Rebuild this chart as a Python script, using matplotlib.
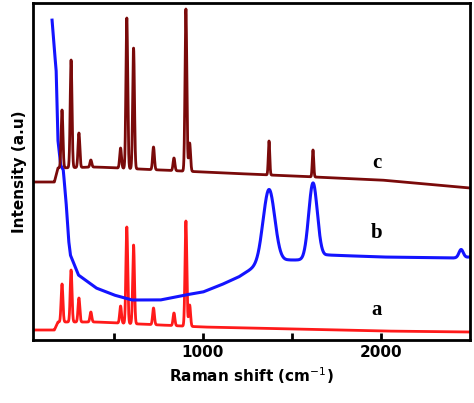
import numpy as np
import matplotlib
matplotlib.use("Agg")
import matplotlib.pyplot as plt

# Peak positions (cm-1) shared by a and c
pk_pos = [208, 259, 303, 370, 537, 572, 610, 722, 837, 904, 925]
# curve c (pixel-like intensity units)
c_base_x = [45, 165, 185, 400, 1000, 1500, 2000, 2500]
c_base_y = [158, 158, 172, 173, 168, 164, 160, 152]
c_pk_y = [230, 280, 207, 180, 192, 322, 292, 193, 182, 331, 197]
c_extra_pos = [1371, 1618]
c_extra_y = [199, 190]
# curve a
a_base_x = [45, 165, 185, 400, 1000, 1500, 2000, 2500]
a_base_y = [10, 10, 18, 18, 13, 11, 9, 8]
a_pk_y = [56, 70, 42, 28, 34, 113, 95, 32, 27, 119, 35]
# curve b
b_base_x = [152, 165, 175, 185, 200, 215, 230, 245, 255, 300, 400, 500, 600, 760, 900, 1000, 1100, 1200, 1280, 1330, 1480, 1560, 1700, 2000, 2400, 2500]
b_base_y = [320, 290, 270, 200, 175, 170, 140, 100, 85, 65, 52, 45, 40, 40, 45, 48, 55, 63, 72, 78, 80, 80, 85, 83, 82, 83]
b_pk_pos = [1371, 1618, 2450]
b_pk_y = [72, 75, 8]
b_pk_w = [32, 24, 12]

x = np.linspace(45, 2500, 5000)

def gau(pos, h, w):
    return h * np.exp(-0.5 * ((x - pos) / w) ** 2)

c = np.interp(x, c_base_x, c_base_y)
for p, h in zip(pk_pos, c_pk_y):
    c += gau(p, h - np.interp(p, c_base_x, c_base_y), 5)
for p, h in zip(c_extra_pos, c_extra_y):
    c += gau(p, h - np.interp(p, c_base_x, c_base_y), 4)

a = np.interp(x, a_base_x, a_base_y)
for p, h in zip(pk_pos, a_pk_y):
    a += gau(p, h - np.interp(p, a_base_x, a_base_y), 5)

xb = x[x >= 152]
b = np.interp(xb, b_base_x, b_base_y)
for p, h, w in zip(b_pk_pos, b_pk_y, b_pk_w):
    b += h * np.exp(-0.5 * ((xb - p) / w) ** 2)

fig = plt.figure(figsize=(4.74, 4.03), dpi=100)
ax = fig.add_axes([33/474, 63/403, 437/474, 337/403])
ax.plot(x, a, color="#ff1a1a", lw=2)
ax.plot(xb, b, color="#1414ff", lw=2.2)
ax.plot(x, c, color="#7a0a0a", lw=2)
ax.set_xlim(45, 2500)
ax.set_ylim(0, 337)
ax.set_yticks([])
ax.set_xticks([1000, 2000])
ax.set_xticks([500, 1500], minor=True)
ax.tick_params(axis="x", which="both", direction="in", width=2, length=5, labelsize=11)
for lab in ax.get_xticklabels():
    lab.set_fontweight("bold")
for s in ax.spines.values():
    s.set_linewidth(2)
ax.set_xlabel("Raman shift (cm$^{-1}$)", fontsize=11, fontweight="bold")
ax.set_ylabel("Intensity (a.u)", fontsize=11, fontweight="bold", labelpad=4)
for t, yy in [("c", 177), ("b", 107), ("a", 30)]:
    ax.text(1975, yy, t, fontsize=15, fontweight="bold", family="Liberation Serif", ha="center", va="center")
fig.savefig("out.png", dpi=100)
